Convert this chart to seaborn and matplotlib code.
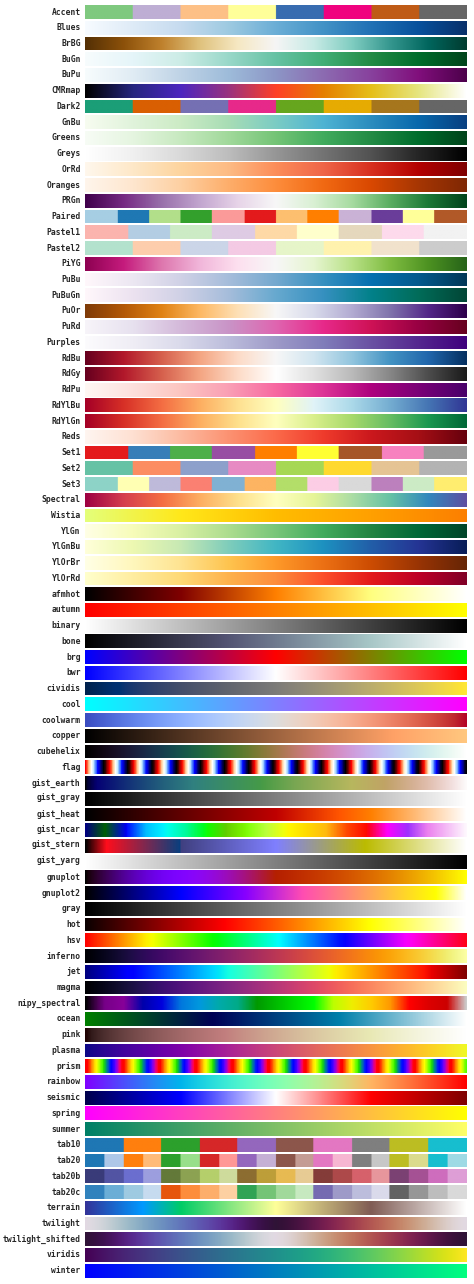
import numpy as np
import matplotlib
matplotlib.use("Agg")
import matplotlib.pyplot as plt
import seaborn as sns

cmap_names = ["Accent","Blues","BrBG","BuGn","BuPu","CMRmap","Dark2","GnBu","Greens","Greys",
 "OrRd","Oranges","PRGn","Paired","Pastel1","Pastel2","PiYG","PuBu","PuBuGn","PuOr","PuRd",
 "Purples","RdBu","RdGy","RdPu","RdYlBu","RdYlGn","Reds","Set1","Set2","Set3","Spectral",
 "Wistia","YlGn","YlGnBu","YlOrBr","YlOrRd","afmhot","autumn","binary","bone","brg","bwr",
 "cividis","cool","coolwarm","copper","cubehelix","flag","gist_earth","gist_gray","gist_heat",
 "gist_ncar","gist_stern","gist_yarg","gnuplot","gnuplot2","gray","hot","hsv","inferno","jet",
 "magma","nipy_spectral","ocean","pink","plasma","prism","rainbow","seismic","spring","summer",
 "tab10","tab20","tab20b","tab20c","terrain","twilight","twilight_shifted","viridis","winter"]

sns.set_style("white")
plt.rcParams['font.family'] = ['DejaVu Sans Mono']

gradient = np.linspace(0, 1, 256)
gradient = np.vstack((gradient, gradient))

n = len(cmap_names)
fig, axes = plt.subplots(n, 1, figsize=(4.74, 12.84), dpi=100)
fig.subplots_adjust(left=0.18, right=0.985, top=0.996, bottom=0.005, hspace=0.14)
for ax, name in zip(axes, cmap_names):
    ax.imshow(gradient, aspect='auto', cmap=plt.get_cmap(name))
    ax.text(-0.012, 0.5, name, va='center', ha='right', fontsize=5.8,
            fontweight='bold', transform=ax.transAxes)
    ax.set_axis_off()
fig.savefig("out.png", dpi=100)
